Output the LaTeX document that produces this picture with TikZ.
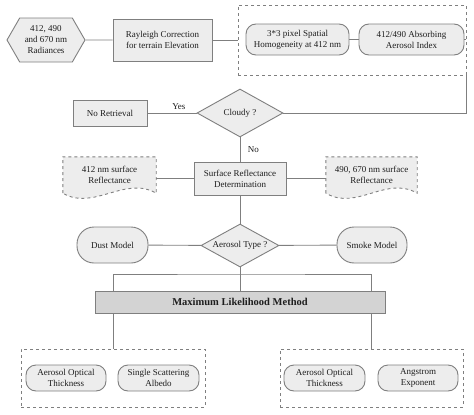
\documentclass[tikz,border=0pt]{standalone}
\usepackage{fontspec}
\setmainfont{Liberation Serif}
\usetikzlibrary{shapes.geometric, shapes.symbols, backgrounds}

\definecolor{linegray}{HTML}{7F7F7F}
\definecolor{boxgray}{HTML}{EDEDED}
\definecolor{mlgray}{HTML}{D3D3D3}
\definecolor{inkgray}{HTML}{1E1E1E}

\tikzset{
  link/.style={draw=linegray, line width=0.9pt},
  box/.style={draw=linegray, fill=boxgray, line width=0.9pt, align=center, inner sep=1pt, text=inkgray},
  rbox/.style={box, rounded corners=10pt},
  pillbox/.style={box, rounded corners=17pt, minimum height=36pt},
  hexbox/.style={box, signal, signal to=west and east, signal pointer angle=120},
  decision/.style={box, diamond, aspect=1.8, inner sep=0pt},
  groupbox/.style={draw=linegray, dashed, line width=0.9pt, inner sep=0pt},
  docnode/.style={align=center, inner sep=1pt, minimum height=36pt, text=inkgray},
  docline/.style={draw=linegray, fill=boxgray, dashed, line width=0.9pt},
  mlbox/.style={box, fill=mlgray, minimum width=290pt, minimum height=22pt, font=\fontsize{10.5}{12}\selectfont\bfseries}
}

\begin{document}
\begin{tikzpicture}[x=1pt, y=-1pt, font=\fontsize{9}{11}\selectfont]
  \useasboundingbox (0,0) rectangle (474,415);

  % input and cloud screening
  \node[hexbox, minimum width=78pt, minimum height=44pt] (rad) at (46,40) {412, 490\\and 670 nm\\Radiances};
  \node[box, minimum width=99pt, minimum height=42pt] (rayl) at (162.5,40) {Rayleigh Correction\\for terrain Elevation};
  \node[groupbox, minimum width=228pt, minimum height=70pt] (cldgrp) at (352,40) {};
  \node[rbox, minimum width=103pt, minimum height=31pt] (homog) at (297.5,39.5) {3*3 pixel Spatial\\Homogeneity at 412 nm};
  \node[rbox, minimum width=105pt, minimum height=31pt] (aai) at (411.5,39.5) {412/490 Absorbing\\Aerosol Index};
  \node[decision, minimum width=86pt, minimum height=48pt] (cloudy) at (240,113) {Cloudy ?};
  \node[box, minimum width=74pt, minimum height=26pt] (noret) at (110,113) {No Retrieval};

  % surface reflectance
  \node[box, minimum width=92pt, minimum height=33pt] (sfc) at (240,178.5) {Surface Reflectance\\Determination};
  \node[docnode, minimum width=93pt] (sfcl) at (109.5,175) {412 nm surface\\Reflectance};
  \node[docnode, minimum width=91pt] (sfcr) at (371.5,175) {490, 670 nm surface\\Reflectance};
  \begin{scope}[on background layer]
    \path[docline] (sfcl.south west) -- (sfcl.north west) -- (sfcl.north east) -- (sfcl.south east)
          .. controls +(-31,-18) and +(31,18) .. (sfcl.south west);
    \path[docline] (sfcr.south west) -- (sfcr.north west) -- (sfcr.north east) -- (sfcr.south east)
          .. controls +(-31,-18) and +(31,18) .. (sfcr.south west);
  \end{scope}

  % aerosol model
  \node[decision, minimum width=78pt, minimum height=43pt] (atype) at (240,245.5) {Aerosol Type ?};
  \node[pillbox, minimum width=71pt] (dust) at (112.5,245) {Dust Model};
  \node[pillbox, minimum width=70pt] (smoke) at (372,245) {Smoke Model};
  \node[mlbox] (mlm) at (240,302) {Maximum Likelihood Method};
  \coordinate (mlbar) at (240,274);

  % outputs
  \node[groupbox, minimum width=184pt, minimum height=58pt] (dustout) at (113,378) {};
  \node[groupbox, minimum width=183pt, minimum height=58pt] (smokeout) at (371.5,378) {};
  \node[rbox, minimum width=80pt, minimum height=26pt] (aodd) at (66,378) {Aerosol Optical\\Thickness};
  \node[rbox, minimum width=81pt, minimum height=26pt] (ssa) at (158.5,378) {Single Scattering\\Albedo};
  \node[rbox, minimum width=81pt, minimum height=26pt] (aods) at (324.5,378) {Aerosol Optical\\Thickness};
  \node[rbox, minimum width=80pt, minimum height=26pt] (ae) at (418,378) {Angstrom\\Exponent};

  % connectors
  \draw[link] (rad) -- (rayl);
  \draw[link] (rayl) -- (cldgrp);
  \draw[link] (homog) -- (aai);
  \draw[link] (aai.east) -- (cldgrp.east |- aai.east);
  \draw[link] (cldgrp.south east) |- (cloudy.east);
  \draw[link] (noret) -- node[pos=.64, above, text=inkgray] {Yes} (cloudy);
  \draw[link] (cloudy) -- node[right=4pt, text=inkgray] {No} (sfc);
  \draw[link] (sfcl.east |- sfc) -- (sfc);
  \draw[link] (sfc) -- (sfcr.west |- sfc);
  \draw[link] (sfc) -- (atype);
  \draw[link] (dust) -- (atype);
  \draw[link] (atype) -- (smoke);
  \draw[link] (atype) -- (mlm);
  \draw[link] (mlm.north -| dustout) |- (mlbar) -| (mlm.north -| smokeout);
  \draw[link] (mlm.south -| dustout) -- (dustout);
  \draw[link] (mlm.south -| smokeout) -- (smokeout);
\end{tikzpicture}
\end{document}
